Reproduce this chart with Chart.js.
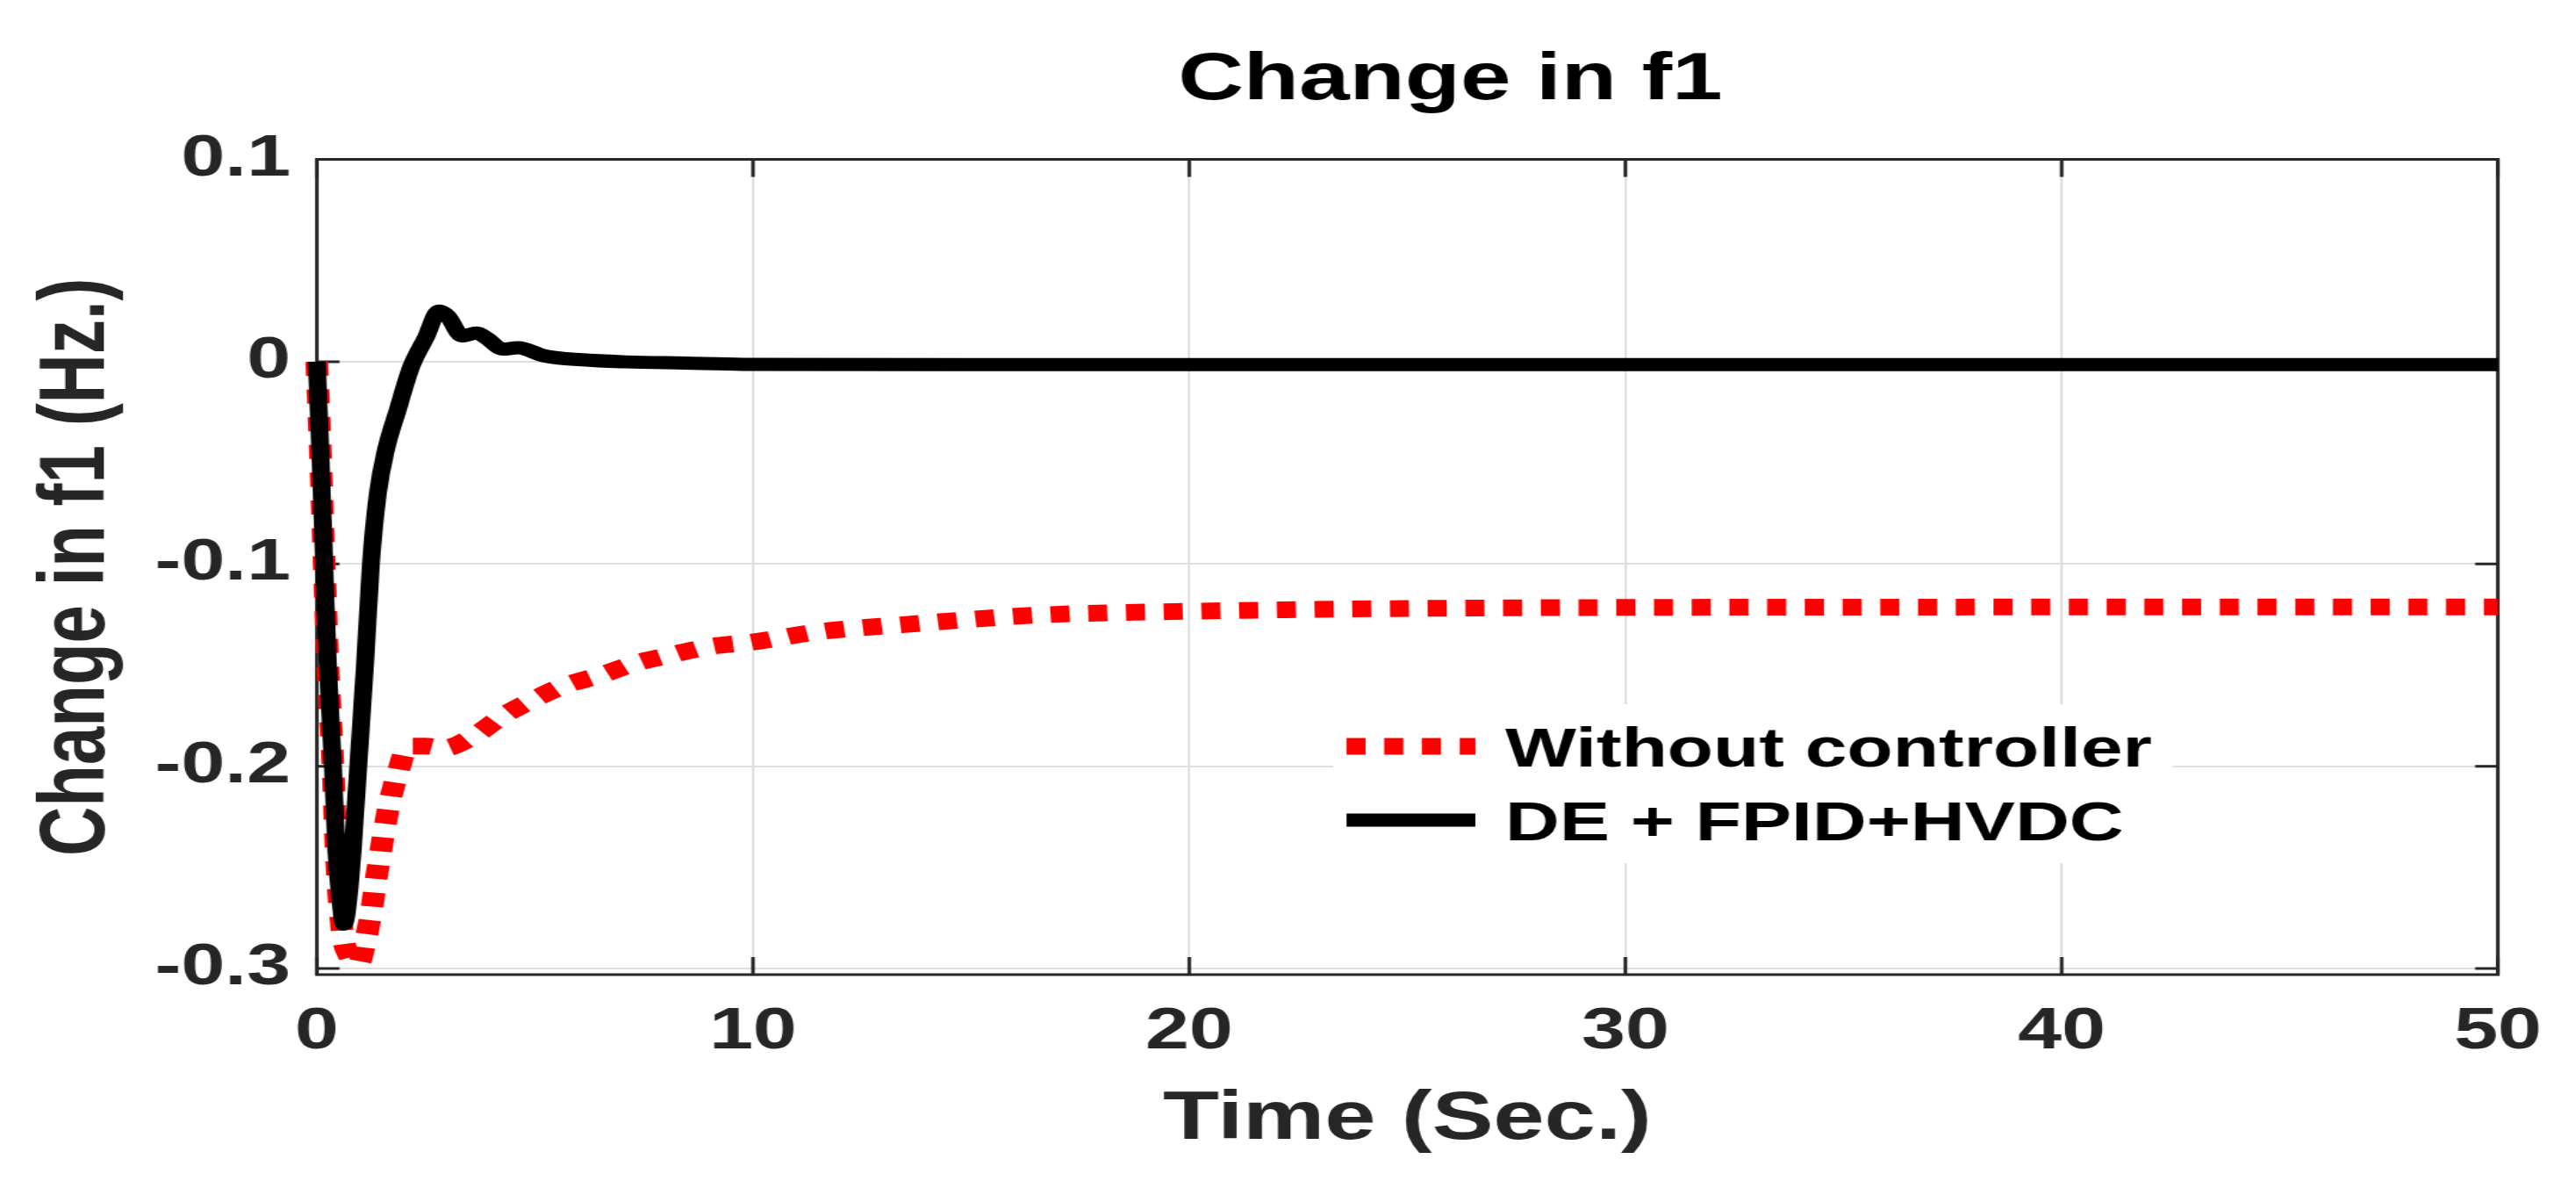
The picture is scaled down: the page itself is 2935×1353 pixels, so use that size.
<!DOCTYPE html>
<html>
<head>
<meta charset="utf-8">
<script src="https://cdn.jsdelivr.net/npm/chart.js@4.4.0/dist/chart.umd.min.js"></script>
<style>
  html, body { margin: 0; padding: 0; background: #fff; overflow: hidden; }
  /* the source figure is stretched sideways, so draw narrow and stretch */
  #wrap { width: 2158px; height: 1353px; transform: scaleX(1.36); transform-origin: 0 0; }
</style>
</head>
<body>
<div id="wrap"><canvas id="f1Chart"></canvas></div>
<script>
const xTicks = [0, 10, 20, 30, 40, 50];
const yTicks = [-0.3, -0.2, -0.1, 0, 0.1];
const yTickLabels = ['-0.3', '-0.2', '-0.1', '0', '0.1'];
const seriesNames = ['Without controller', 'DE + FPID+HVDC'];

// without controller (red dotted)
const tRed = [0, 0.08, 0.17, 0.25, 0.37, 0.45, 0.58, 0.75, 0.95, 1.12, 1.25, 1.35, 1.45, 1.56, 1.68, 1.86,
  2.1, 2.5, 2.9, 3.6, 4.27, 4.97, 5.69, 6.5, 7.31, 8.11, 8.96, 10, 11.5, 13.45, 16.5, 20, 25, 30, 40, 50];
const fRed = [0, -0.044, -0.1, -0.148, -0.2, -0.245, -0.281, -0.294, -0.298, -0.2855, -0.272, -0.257, -0.244, -0.23, -0.217, -0.203,
  -0.19, -0.19, -0.191, -0.185, -0.175, -0.167, -0.16, -0.155, -0.149, -0.145, -0.141, -0.1386, -0.1335, -0.13, -0.1253, -0.1234, -0.122, -0.1215, -0.1213, -0.1213];

// DE + FPID + HVDC (black)
const tPid = [0, 0.08, 0.17, 0.25, 0.37, 0.45, 0.55, 0.62, 0.7, 0.82, 0.95, 1.11, 1.24, 1.4, 1.58, 1.86, 2.16, 2.5,
  2.8, 3.0, 3.33, 3.67, 3.9, 4.27, 4.61, 5.21, 6.08, 7.09, 8.43, 9.77, 15, 20, 30, 40, 50];
const fPid = [0, -0.044, -0.1, -0.148, -0.2, -0.242, -0.268, -0.278, -0.27, -0.242, -0.2, -0.148, -0.1, -0.065, -0.044, -0.0235, -0.0027, 0.012,
  0.025, 0.0225, 0.0127, 0.0142, 0.0115, 0.0062, 0.0069, 0.0029, 0.0009, -0.0001, -0.0007, -0.0013, -0.0015, -0.0015, -0.0015, -0.0015, -0.0015];

const FONT = "'Liberation Sans', Arial, sans-serif";
const RED_DASH = [16, 15.6];

// box + inward ticks, MATLAB style
const framePlugin = {
  id: 'frame',
  beforeDatasetsDraw(chart) {
    const {ctx, chartArea: a, scales} = chart;
    ctx.save();
    ctx.strokeStyle = '#262626';
    ctx.lineWidth = 3;
    ctx.strokeRect(a.left, a.top, a.right - a.left, a.bottom - a.top);
    ctx.beginPath();
    xTicks.forEach(v => {
      const px = scales.x.getPixelForValue(v);
      ctx.moveTo(px, a.bottom); ctx.lineTo(px, a.bottom - 20);
      ctx.moveTo(px, a.top); ctx.lineTo(px, a.top + 20);
    });
    yTicks.forEach(v => {
      const py = scales.y.getPixelForValue(v);
      ctx.moveTo(a.left, py); ctx.lineTo(a.left + 19, py);
      ctx.moveTo(a.right, py); ctx.lineTo(a.right - 19, py);
    });
    ctx.stroke();
    ctx.restore();
  }
};

const titlePlugin = {
  id: 'plotTitle',
  afterDraw(chart) {
    const ctx = chart.ctx;
    ctx.save();
    ctx.font = 'bold 76px ' + FONT;
    ctx.fillStyle = '#000';
    ctx.textAlign = 'center';
    ctx.textBaseline = 'alphabetic';
    ctx.fillText('Change in f1', 1215, 113);
    ctx.restore();
  }
};

const legendPlugin = {
  id: 'boxLegend',
  afterDatasetsDraw(chart) {
    const ctx = chart.ctx;
    const ds = chart.data.datasets;
    const rows = [850, 934];
    ctx.save();
    ctx.fillStyle = '#fff';
    ctx.fillRect(1117, 802, 703, 181);
    ds.forEach((d, i) => {
      ctx.beginPath();
      ctx.strokeStyle = d.borderColor;
      ctx.lineWidth = d.borderWidth;
      ctx.lineCap = 'butt';
      ctx.setLineDash(d.borderDash || []);
      ctx.moveTo(1128, rows[i]);
      ctx.lineTo(1236, rows[i]);
      ctx.stroke();
      ctx.setLineDash([]);
      ctx.font = 'bold 63px ' + FONT;
      ctx.fillStyle = '#000';
      ctx.textAlign = 'left';
      ctx.textBaseline = 'alphabetic';
      ctx.fillText(d.label, 1261, rows[i] + 23);
    });
    ctx.restore();
  }
};

function initChart() {
  const ctx = document.getElementById('f1Chart').getContext('2d');
  new Chart(ctx, {
    type: 'line',
    data: {
      datasets: [{
        label: seriesNames[0],
        data: tRed.map((t, i) => ({x: t, y: fRed[i]})),
        borderColor: '#ff0000',
        borderWidth: 19,
        borderDash: RED_DASH,
        borderCapStyle: 'butt',
        pointRadius: 0,
        cubicInterpolationMode: 'monotone',
        clip: false,
        order: 1
      }, {
        label: seriesNames[1],
        data: tPid.map((t, i) => ({x: t, y: fPid[i]})),
        borderColor: '#000000',
        borderWidth: 15,
        borderCapStyle: 'butt',
        pointRadius: 0,
        cubicInterpolationMode: 'monotone',
        clip: false,
        order: 0
      }]
    },
    options: {
      responsive: true, maintainAspectRatio: false,
      animation: false,
      layout: { padding: { left: 0, right: 65.4, top: 181.5, bottom: 0 } },
      plugins: { legend: { display: false }, tooltip: { enabled: false } },
      scales: {
        x: {
          type: 'linear', min: 0, max: 50,
          afterBuildTicks: axis => { axis.ticks = xTicks.map(v => ({value: v})); },
          afterFit: scale => { scale.height = 243; },
          border: { display: false },
          grid: { color: '#dfdfdf', lineWidth: 2, drawTicks: false },
          ticks: { color: '#262626', padding: 26, maxRotation: 0, font: { family: FONT, size: 66, weight: 'bold' } },
          title: { display: true, text: 'Time (Sec.)', color: '#262626', padding: { top: 0, bottom: 31.5 },
                   font: { family: FONT, size: 77, weight: 'bold' } }
        },
        y: {
          type: 'linear', min: -0.303, max: 0.1,
          afterBuildTicks: axis => { axis.ticks = yTicks.map(v => ({value: v})); },
          afterFit: scale => { scale.width = 265.4; },
          border: { display: false },
          grid: { color: '#dfdfdf', lineWidth: 2, drawTicks: false },
          ticks: {
            color: '#262626', padding: 22,
            font: { family: FONT, size: 66, weight: 'bold' },
            callback: v => yTickLabels[yTicks.indexOf(v)]
          },
          title: { display: true, text: 'Change in f1 (Hz.)', color: '#262626', padding: { top: 18.8, bottom: 0 },
                   font: { family: FONT, size: 78, weight: 'bold' } }
        }
      }
    },
    plugins: [framePlugin, legendPlugin, titlePlugin]
  });
}

window.onload = initChart;
</script>
</body>
</html>
